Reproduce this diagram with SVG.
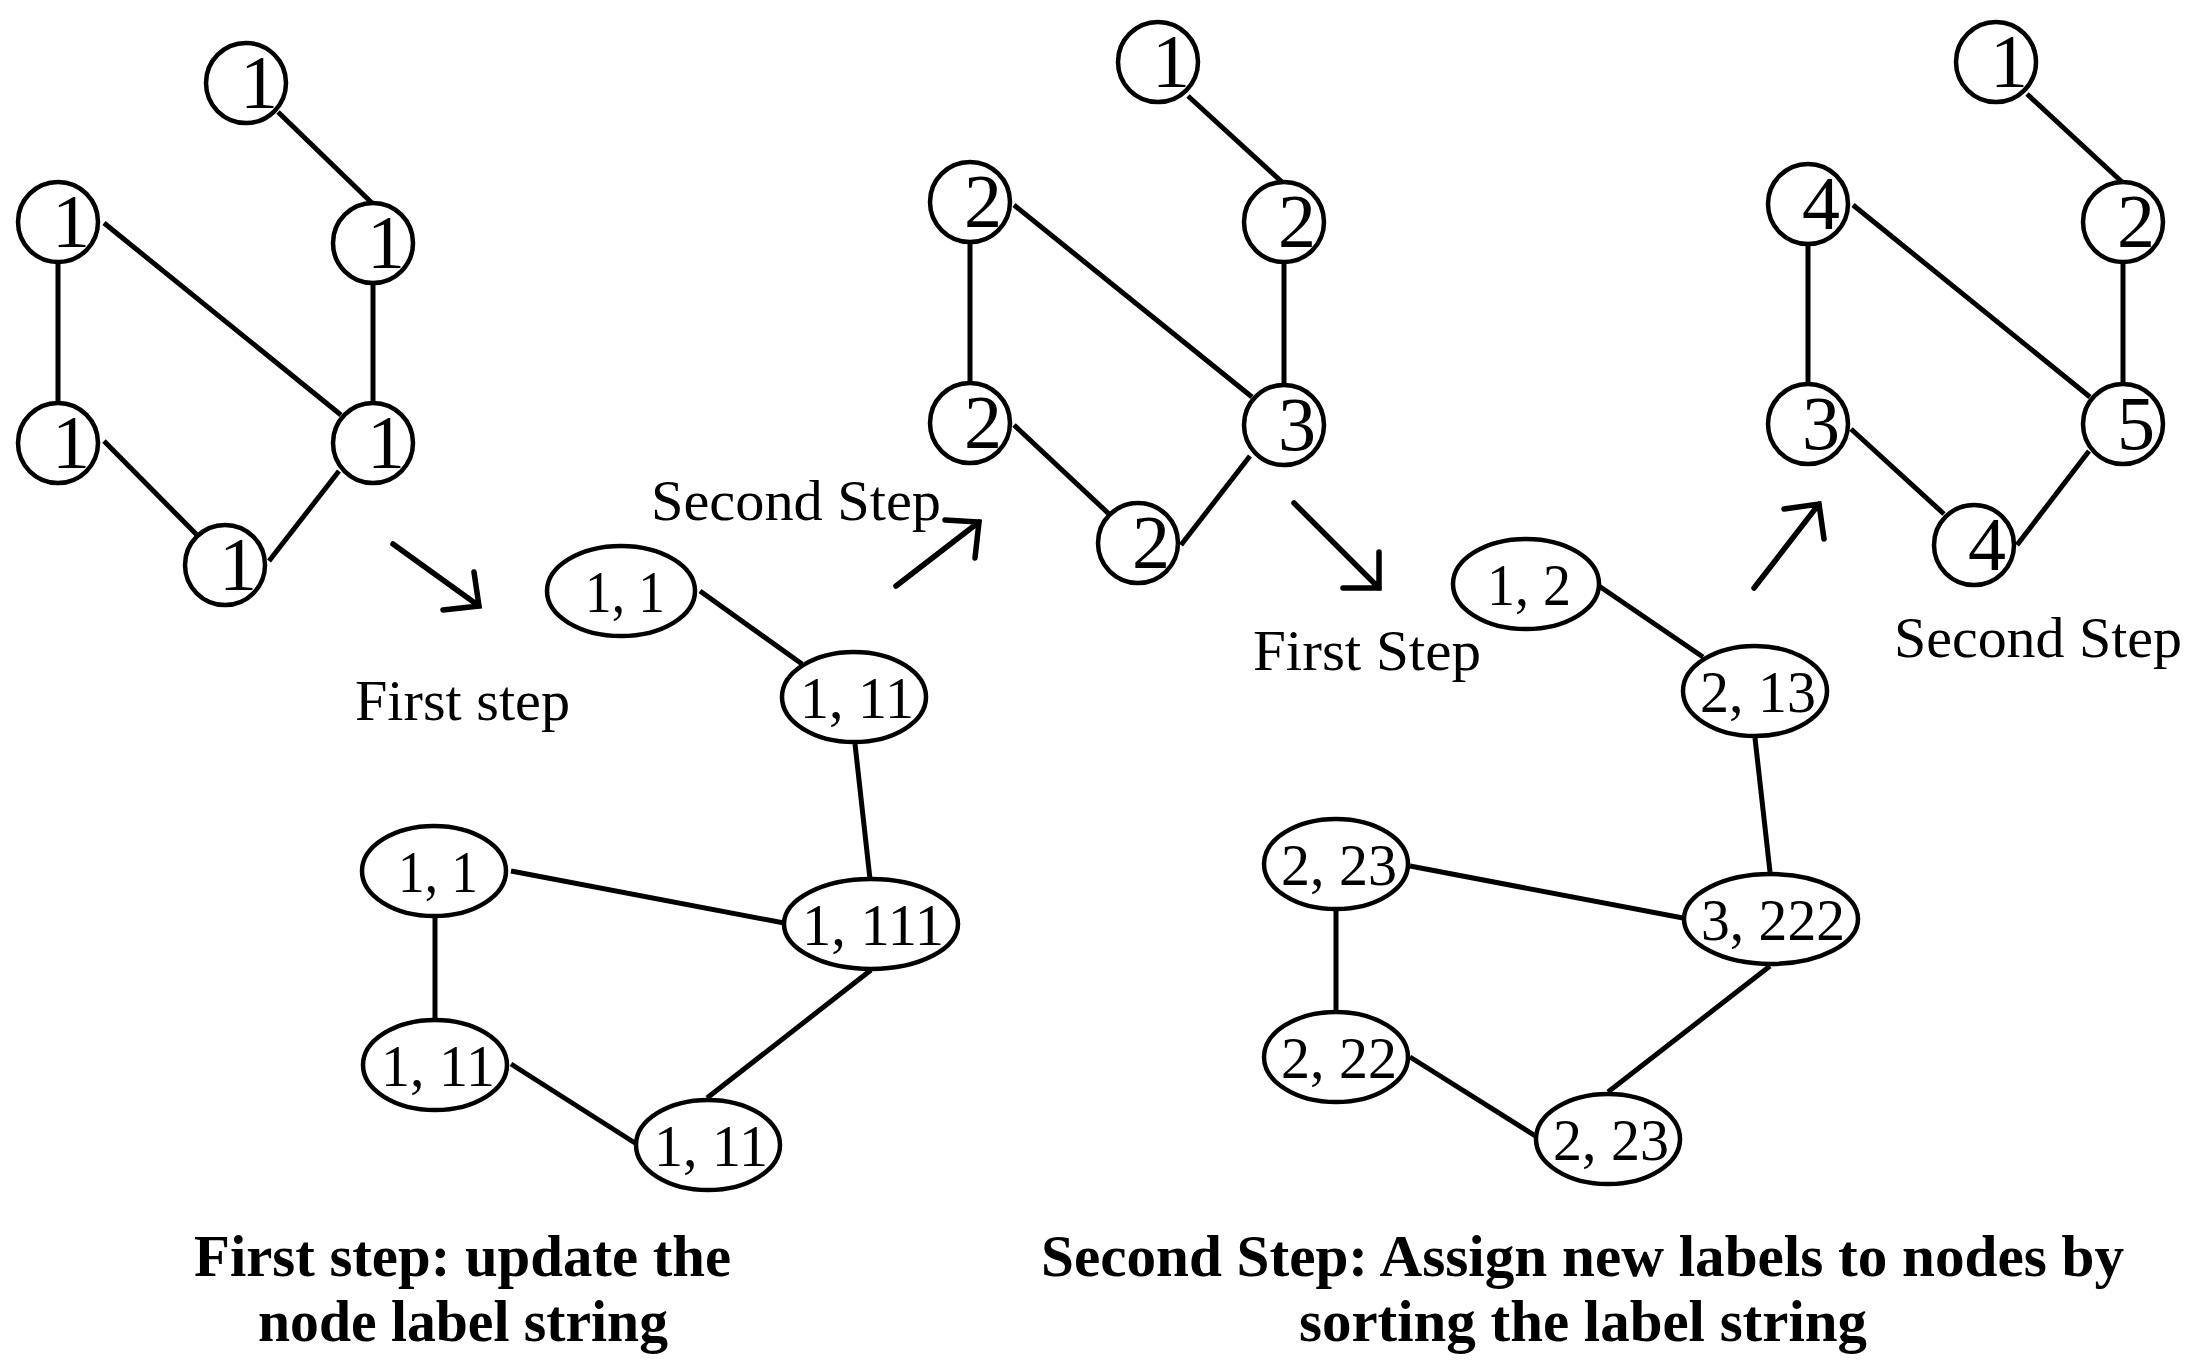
<svg xmlns="http://www.w3.org/2000/svg" width="2194" height="1367" viewBox="0 0 2194 1367">
<style>
.e{stroke:#000;stroke-width:5;fill:none;stroke-linecap:butt}
.a{stroke:#000;stroke-width:5.5;fill:none;stroke-linecap:round;stroke-linejoin:miter}
.n{fill:#fff;stroke:#000;stroke-width:4.5}
.d{font-family:"Liberation Serif","Times New Roman",serif;font-size:76px;text-anchor:middle}
.s{font-family:"Liberation Serif","Times New Roman",serif;font-size:60px;text-anchor:middle}
.t{font-family:"Liberation Serif","Times New Roman",serif;font-size:57px}
.c{font-family:"Liberation Serif","Times New Roman",serif;font-size:60px;font-weight:bold}
</style>
<rect width="2194" height="1367" fill="#fff"/>
<g id="connectors">
<path class="e" d="M278,112 L372,203"/>
<path class="e" d="M58,262 L58,403"/>
<path class="e" d="M104,223 L341,415"/>
<path class="e" d="M373,283 L373,403"/>
<path class="e" d="M104,441 L197,535"/>
<path class="e" d="M339,471 L269,561"/>
<path class="e" d="M1188,96 L1282,182"/>
<path class="e" d="M970,244 L970,383"/>
<path class="e" d="M1014,205 L1252,397"/>
<path class="e" d="M1284,264 L1284,385"/>
<path class="e" d="M1014,425 L1109,514"/>
<path class="e" d="M1250,456 L1181,545"/>
<path class="e" d="M2027,94 L2122,182"/>
<path class="e" d="M1808,246 L1808,383"/>
<path class="e" d="M1853,205 L2090,397"/>
<path class="e" d="M2123,264 L2123,384"/>
<path class="e" d="M1851,429 L1944,514"/>
<path class="e" d="M2089,451 L2017,545"/>
<path class="e" d="M700,591 L802,664"/>
<path class="e" d="M855,744 L870,879"/>
<path class="e" d="M511,871 L784,923"/>
<path class="e" d="M435,918 L435,1018"/>
<path class="e" d="M511,1064 L635,1143"/>
<path class="e" d="M707,1098 L871,970"/>
<path class="e" d="M1599,586 L1703,657"/>
<path class="e" d="M1755,738 L1770,872"/>
<path class="e" d="M1410,866 L1683,918"/>
<path class="e" d="M1336,911 L1336,1010"/>
<path class="e" d="M1410,1057 L1537,1137"/>
<path class="e" d="M1608,1092 L1770,966"/>
<path class="a" d="M393,544 L479,606 M443,610 L479,606 L474,572"/>
<path class="a" d="M896,586 L979,522 M945,520 L979,522 L975,558"/>
<path class="a" d="M1294,503 L1379,588 M1343,588 L1379,588 L1379,552"/>
<path class="a" d="M1754,588 L1819,504 M1784,509 L1819,504 L1824,539"/>
</g>
<g id="g1n1"><ellipse class="n" cx="246" cy="83" rx="40" ry="40"/><text class="d" x="259" y="108">1</text></g>
<g id="g1n2"><ellipse class="n" cx="58" cy="222" rx="40" ry="40"/><text class="d" x="71" y="247">1</text></g>
<g id="g1n3"><ellipse class="n" cx="373" cy="243" rx="40" ry="40"/><text class="d" x="386" y="268">1</text></g>
<g id="g1n4"><ellipse class="n" cx="58" cy="443" rx="40" ry="40"/><text class="d" x="71" y="468">1</text></g>
<g id="g1n5"><ellipse class="n" cx="373" cy="443" rx="40" ry="40"/><text class="d" x="386" y="468">1</text></g>
<g id="g1n6"><ellipse class="n" cx="225" cy="565" rx="40" ry="40"/><text class="d" x="238" y="590">1</text></g>
<g id="g3n1"><ellipse class="n" cx="1158" cy="62" rx="40" ry="40"/><text class="d" x="1171" y="87">1</text></g>
<g id="g3n2"><ellipse class="n" cx="970" cy="202" rx="40" ry="40"/><text class="d" x="983" y="227">2</text></g>
<g id="g3n3"><ellipse class="n" cx="1284" cy="222" rx="40" ry="40"/><text class="d" x="1297" y="247">2</text></g>
<g id="g3n4"><ellipse class="n" cx="970" cy="423" rx="40" ry="40"/><text class="d" x="983" y="448">2</text></g>
<g id="g3n5"><ellipse class="n" cx="1284" cy="425" rx="40" ry="40"/><text class="d" x="1297" y="450">3</text></g>
<g id="g3n6"><ellipse class="n" cx="1138" cy="543" rx="40" ry="40"/><text class="d" x="1151" y="568">2</text></g>
<g id="g5n1"><ellipse class="n" cx="1996" cy="62" rx="40" ry="40"/><text class="d" x="2009" y="87">1</text></g>
<g id="g5n2"><ellipse class="n" cx="1808" cy="204" rx="40" ry="40"/><text class="d" x="1821" y="229">4</text></g>
<g id="g5n3"><ellipse class="n" cx="2123" cy="222" rx="40" ry="40"/><text class="d" x="2136" y="247">2</text></g>
<g id="g5n4"><ellipse class="n" cx="1808" cy="424" rx="40" ry="40"/><text class="d" x="1821" y="449">3</text></g>
<g id="g5n5"><ellipse class="n" cx="2123" cy="424" rx="40" ry="40"/><text class="d" x="2136" y="449">5</text></g>
<g id="g5n6"><ellipse class="n" cx="1974" cy="545" rx="40" ry="40"/><text class="d" x="1987" y="570">4</text></g>
<g id="g2n1"><ellipse class="n" cx="621" cy="591" rx="74" ry="45"/><text class="s" x="625" y="612" textLength="80" lengthAdjust="spacingAndGlyphs">1, 1</text></g>
<g id="g2n2"><ellipse class="n" cx="854" cy="697" rx="72" ry="45"/><text class="s" x="857" y="718" textLength="114" lengthAdjust="spacingAndGlyphs">1, 11</text></g>
<g id="g2n3"><ellipse class="n" cx="434" cy="871" rx="72" ry="45"/><text class="s" x="438" y="892" textLength="80" lengthAdjust="spacingAndGlyphs">1, 1</text></g>
<g id="g2n4"><ellipse class="n" cx="871" cy="924" rx="87" ry="45"/><text class="s" x="873" y="945" textLength="142" lengthAdjust="spacingAndGlyphs">1, 111</text></g>
<g id="g2n5"><ellipse class="n" cx="435" cy="1065" rx="72" ry="45"/><text class="s" x="438" y="1086" textLength="114" lengthAdjust="spacingAndGlyphs">1, 11</text></g>
<g id="g2n6"><ellipse class="n" cx="708" cy="1145" rx="72" ry="45"/><text class="s" x="711" y="1166" textLength="114" lengthAdjust="spacingAndGlyphs">1, 11</text></g>
<g id="g4n1"><ellipse class="n" cx="1526" cy="584" rx="73" ry="45"/><text class="s" x="1529" y="605" textLength="84" lengthAdjust="spacingAndGlyphs">1, 2</text></g>
<g id="g4n2"><ellipse class="n" cx="1755" cy="691" rx="72" ry="45"/><text class="s" x="1758" y="712" textLength="116" lengthAdjust="spacingAndGlyphs">2, 13</text></g>
<g id="g4n3"><ellipse class="n" cx="1336" cy="864" rx="72" ry="45"/><text class="s" x="1339" y="885" textLength="116" lengthAdjust="spacingAndGlyphs">2, 23</text></g>
<g id="g4n4"><ellipse class="n" cx="1771" cy="919" rx="87" ry="45"/><text class="s" x="1773" y="940" textLength="144" lengthAdjust="spacingAndGlyphs">3, 222</text></g>
<g id="g4n5"><ellipse class="n" cx="1336" cy="1057" rx="72" ry="45"/><text class="s" x="1339" y="1078" textLength="116" lengthAdjust="spacingAndGlyphs">2, 22</text></g>
<g id="g4n6"><ellipse class="n" cx="1608" cy="1139" rx="72" ry="45"/><text class="s" x="1611" y="1160" textLength="116" lengthAdjust="spacingAndGlyphs">2, 23</text></g>
<g id="labels">
<text class="t" x="651" y="520" textLength="290" lengthAdjust="spacingAndGlyphs">Second Step</text>
<text class="t" x="355" y="720" textLength="215" lengthAdjust="spacingAndGlyphs">First step</text>
<text class="t" x="1253" y="670" textLength="228" lengthAdjust="spacingAndGlyphs">First Step</text>
<text class="t" x="1894" y="657" textLength="288" lengthAdjust="spacingAndGlyphs">Second Step</text>
<text class="c" x="194" y="1276" textLength="537" lengthAdjust="spacingAndGlyphs">First step: update the</text>
<text class="c" x="258" y="1341" textLength="410" lengthAdjust="spacingAndGlyphs">node label string</text>
<text class="c" x="1041" y="1276" textLength="1083" lengthAdjust="spacingAndGlyphs">Second Step: Assign new labels to nodes by</text>
<text class="c" x="1299" y="1341" textLength="568" lengthAdjust="spacingAndGlyphs">sorting the label string</text>
</g>
</svg>
